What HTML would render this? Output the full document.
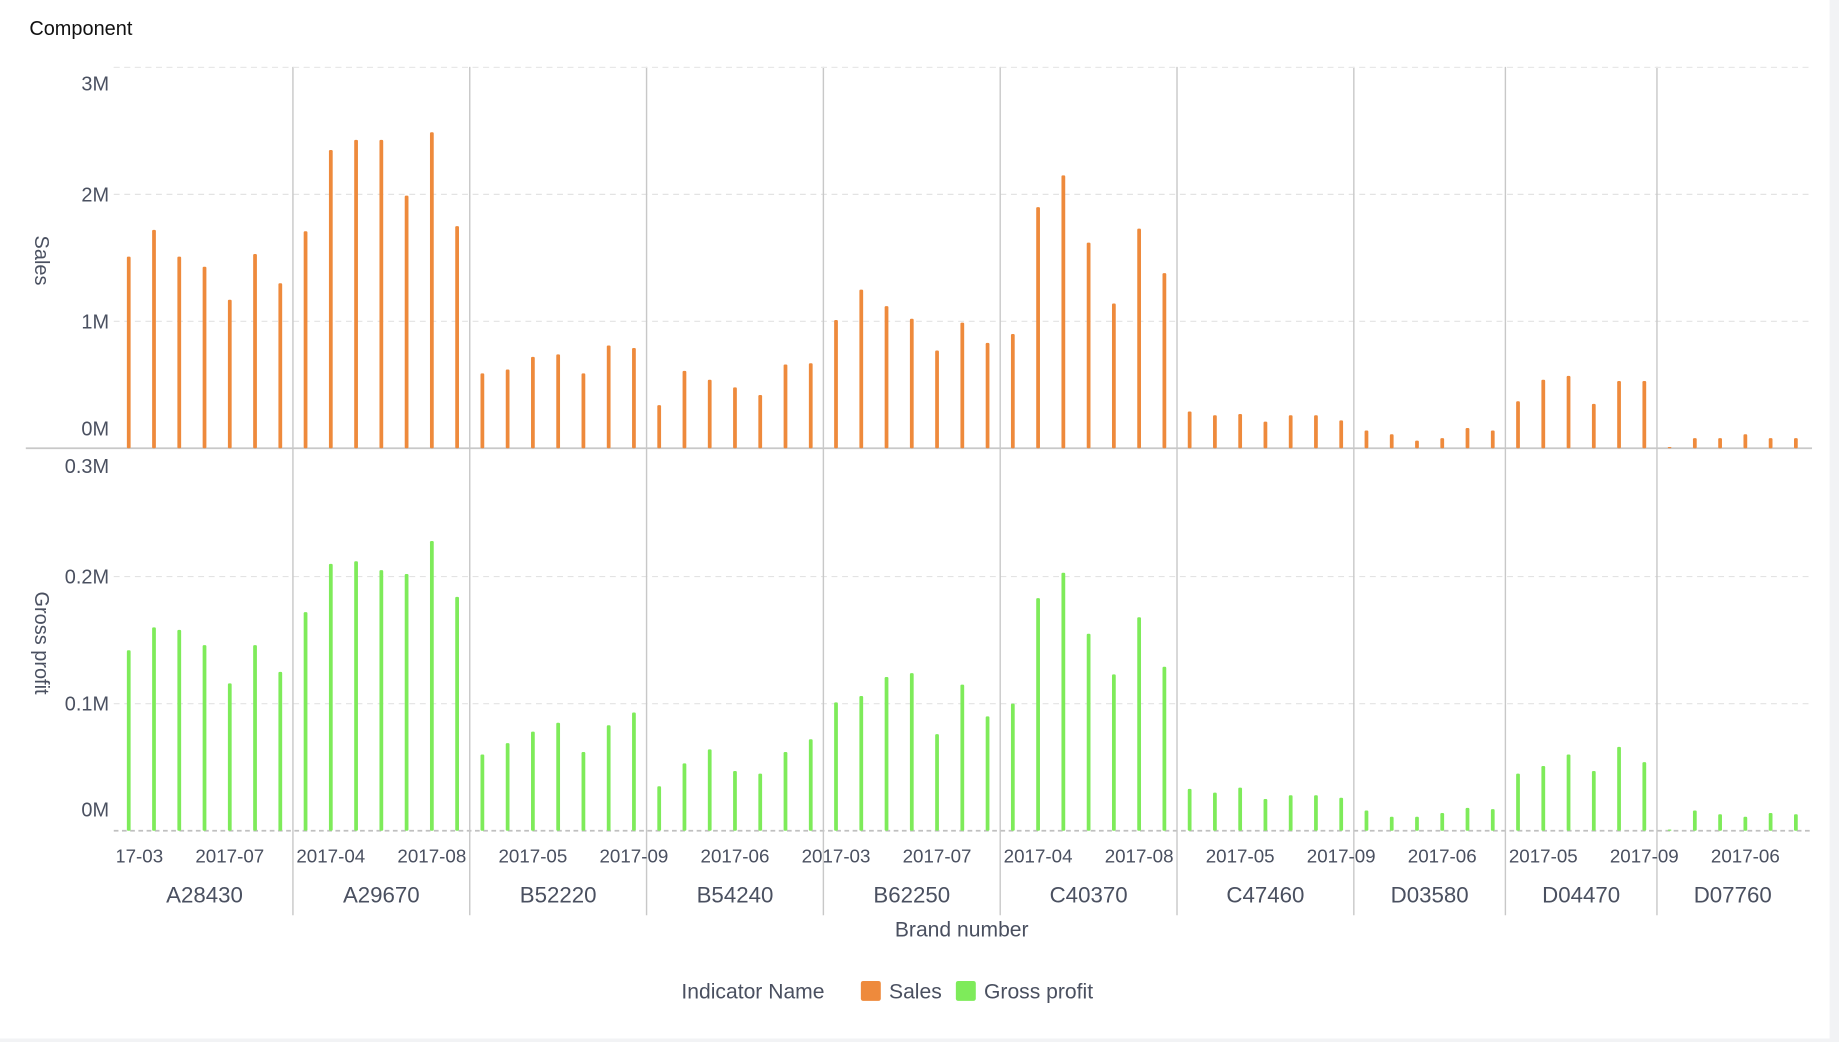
<!DOCTYPE html>
<html><head><meta charset="utf-8"><style>
html,body{margin:0;padding:0;background:#f2f3f5;}
svg{display:block;font-family:"Liberation Sans",sans-serif;}
</style></head><body>
<svg id="chart" width="1839" height="1042" viewBox="0 0 1568 888" preserveAspectRatio="none" xmlns="http://www.w3.org/2000/svg">
<rect x="0" y="0" width="1560" height="885" fill="#ffffff"/>
<text x="25" y="30" font-size="17" fill="#111">Component</text>
<g id="grid"></g>
<g id="bars"></g>
<g id="labels"></g>
<text transform="translate(30,222) rotate(90)" text-anchor="middle" font-size="17" fill="#4a5060">Sales</text>
<text transform="translate(30,548) rotate(90)" text-anchor="middle" font-size="17" fill="#4a5060">Gross profit</text>
<text x="820" y="798" text-anchor="middle" font-size="18" fill="#4a5060">Brand number</text>
<g>
<text x="642" y="851" text-anchor="middle" font-size="18" fill="#4a5060">Indicator Name</text>
<rect x="734" y="836" width="17" height="17" rx="2" fill="#ee8a3c"/>
<text x="758" y="851" font-size="18" fill="#4a5060">Sales</text>
<rect x="815" y="836" width="17" height="17" rx="2" fill="#7eeb5a"/>
<text x="839" y="851" font-size="18" fill="#4a5060">Gross profit</text>
</g>
</svg>
<script>
const brands = ["A28430","A29670","B52220","B54240","B62250","C40370","C47460","D03580","D04470","D07760"];
const brandMonths = [
 ["2017-03","2017-04","2017-05","2017-06","2017-07","2017-08","2017-09"],
 ["2017-03","2017-04","2017-05","2017-06","2017-07","2017-08","2017-09"],
 ["2017-03","2017-04","2017-05","2017-06","2017-07","2017-08","2017-09"],
 ["2017-03","2017-04","2017-05","2017-06","2017-07","2017-08","2017-09"],
 ["2017-03","2017-04","2017-05","2017-06","2017-07","2017-08","2017-09"],
 ["2017-03","2017-04","2017-05","2017-06","2017-07","2017-08","2017-09"],
 ["2017-03","2017-04","2017-05","2017-06","2017-07","2017-08","2017-09"],
 ["2017-03","2017-04","2017-05","2017-06","2017-07","2017-08"],
 ["2017-04","2017-05","2017-06","2017-07","2017-08","2017-09"],
 ["2017-03","2017-04","2017-05","2017-06","2017-07","2017-08"]
];
const salesValues = [
 [1.51,1.72,1.51,1.43,1.17,1.53,1.30],
 [1.71,2.35,2.43,2.43,1.99,2.49,1.75],
 [0.59,0.62,0.72,0.74,0.59,0.81,0.79],
 [0.34,0.61,0.54,0.48,0.42,0.66,0.67],
 [1.01,1.25,1.12,1.02,0.77,0.99,0.83],
 [0.90,1.90,2.15,1.62,1.14,1.73,1.38],
 [0.29,0.26,0.27,0.21,0.26,0.26,0.22],
 [0.14,0.11,0.06,0.08,0.16,0.14],
 [0.37,0.54,0.57,0.35,0.53,0.53],
 [0.01,0.08,0.08,0.11,0.08,0.08]
];
const profitValues = [
 [0.142,0.160,0.158,0.146,0.116,0.146,0.125],
 [0.172,0.210,0.212,0.205,0.202,0.228,0.184],
 [0.060,0.069,0.078,0.085,0.062,0.083,0.093],
 [0.035,0.053,0.064,0.047,0.045,0.062,0.072],
 [0.101,0.106,0.121,0.124,0.076,0.115,0.090],
 [0.100,0.183,0.203,0.155,0.123,0.168,0.129],
 [0.033,0.030,0.034,0.025,0.028,0.028,0.026],
 [0.016,0.011,0.011,0.014,0.018,0.017],
 [0.045,0.051,0.060,0.047,0.066,0.054],
 [0.001,0.016,0.013,0.011,0.014,0.013]
];
const salesTicks = [0,1,2,3];
const salesTickLabels = ["0M","1M","2M","3M"];
const profitTicks = [0,0.1,0.2,0.3];
const profitTickLabels = ["0M","0.1M","0.2M","0.3M"];

const NS="http://www.w3.org/2000/svg";
const X0=99, X1=1542;
const total = salesValues.reduce((a,g)=>a+g.length,0);
const slot=(X1-X0)/total;
const xBand=i=>X0+slot*(i+0.5);
const ySales=v=>382-(v/3)*324.5;
const yProfit=v=>708-(v/0.3)*325;
function mk(tag,attrs,parent){const e=document.createElementNS(NS,tag);for(const k in attrs)e.setAttribute(k,attrs[k]);parent.appendChild(e);return e;}
const grid=document.getElementById('grid'),bars=document.getElementById('bars'),labels=document.getElementById('labels');

salesTicks.forEach((t,i)=>{
 if(t>0){const l=mk('line',{x1:97,x2:1545,y1:ySales(t),y2:ySales(t),stroke:'#e3e3e3','stroke-dasharray':'5,4'},grid);
 
 }
 const tx=mk('text',{x:93,y:(t===3?77:(t===0?371:ySales(t)+6)),'text-anchor':'end','font-size':17,fill:'#4a5060'},labels);
 tx.textContent=salesTickLabels[i];
 
 
});
profitTicks.forEach((t,i)=>{
 if(t>0&&t<0.3){const l=mk('line',{x1:97,x2:1545,y1:yProfit(t),y2:yProfit(t),stroke:'#e3e3e3','stroke-dasharray':'5,4'},grid);
 
 }
 const tx=mk('text',{x:93,y:(t===0.3?403:(t===0?696:yProfit(t)+6)),'text-anchor':'end','font-size':17,fill:'#4a5060'},labels);
 tx.textContent=profitTickLabels[i];
 
 
});
const ax=mk('line',{x1:22,x2:1545,y1:382,y2:382,stroke:'#c8c8c8','stroke-width':1.5},grid);


const bx=mk('line',{x1:97,x2:1545,y1:708,y2:708,stroke:'#c0c0c0','stroke-dasharray':'4,3','stroke-width':1.5},grid);



const defs=mk('defs',{},document.getElementById('chart'));
const cp=mk('clipPath',{id:'tickclip'},defs);
mk('rect',{x:100,y:700,width:1460,height:50},cp);
const tickG=mk('g',{'clip-path':'url(#tickclip)'},labels);

let idx=0;
brands.forEach((b,g)=>{
 const start=idx;
 salesValues[g].forEach((v,j)=>{
  const x=xBand(idx);
  const r=mk('rect',{x:x-1.6,y:ySales(v),width:3.2,height:382-ySales(v),fill:'#ee8a3c',rx:1},bars);
  
  
  const p=profitValues[g][j];
  const r2=mk('rect',{x:x-1.6,y:yProfit(p),width:3.2,height:708-yProfit(p),fill:'#7eeb5a',rx:1},bars);
  
  
  if(idx%4===0){
   const t=mk('text',{x:x,y:735,'text-anchor':'middle','font-size':16,fill:'#4a5060'},tickG);
   t.textContent=brandMonths[g][j];
   
   
  }
  idx++;
 });
 const cx=(X0+slot*start+X0+slot*idx)/2;
 const gl=mk('text',{x:cx,y:769,'text-anchor':'middle','font-size':19,fill:'#4a5060'},labels);
 gl.textContent=b;
 
 
 if(g<brands.length-1){
  const sx=X0+slot*idx;
  const s=mk('line',{x1:sx,x2:sx,y1:57,y2:780,stroke:'#c8c8c8','stroke-width':1.2},grid);
  
  
 }
});
const top3=mk('line',{x1:97,x2:1545,y1:ySales(3),y2:ySales(3),stroke:'#e8e8e8','stroke-dasharray':'5,4'},grid);


</script>
</body></html>
